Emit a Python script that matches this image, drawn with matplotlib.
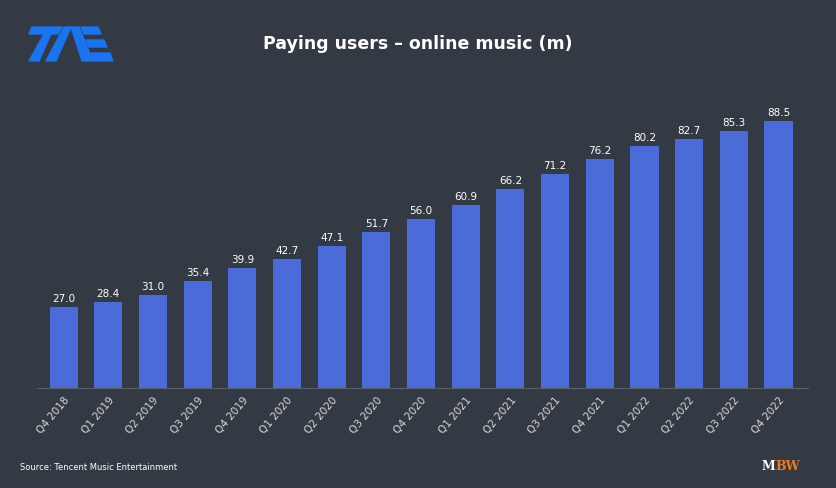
import matplotlib

matplotlib.use("Agg")
import matplotlib.pyplot as plt
from matplotlib.patches import Polygon

quarters = ["Q4 2018", "Q1 2019", "Q2 2019", "Q3 2019", "Q4 2019", "Q1 2020", "Q2 2020",
            "Q3 2020", "Q4 2020", "Q1 2021", "Q2 2021", "Q3 2021", "Q4 2021", "Q1 2022",
            "Q2 2022", "Q3 2022", "Q4 2022"]
paying_users = [27.0, 28.4, 31.0, 35.4, 39.9, 42.7, 47.1, 51.7, 56.0, 60.9, 66.2, 71.2,
                76.2, 80.2, 82.7, 85.3, 88.5]

BG = "#343a43"
BAR = "#4a6bd8"

fig = plt.figure(figsize=(8.36, 4.88), dpi=100, facecolor=BG)
ax = fig.add_axes([0.044, 0.205, 0.923, 0.617], facecolor=BG)

x = range(len(quarters))
ax.bar(x, paying_users, width=0.63, color=BAR, zorder=2)
for xi, v in zip(x, paying_users):
    ax.text(xi, v + 1.0, f"{v:.1f}", ha="center", va="bottom", color="white", fontsize=7.5)

ax.set_xlim(-0.6, 16.67)
ax.set_ylim(0, 100)
ax.set_yticks([])
ax.set_xticks(list(x))
ax.set_xticklabels(quarters, rotation=50, ha="right", rotation_mode="anchor",
                   color="#d8d8d8", fontsize=7.5)
ax.tick_params(axis="x", length=0, pad=5)
for s in ["top", "right", "left"]:
    ax.spines[s].set_visible(False)
ax.spines["bottom"].set_color("#5a606a")

fig.text(0.5, 1 - 44 / 488, "Paying users \u2013 online music (m)", ha="center", va="center",
         color="white", fontsize=12.5, fontweight="bold")

# TME logo, approximated with slanted shapes (pixel coords -> figure fraction)
W, H = 836, 488
logo_color = "#1a73f0"
shapes = [
    [(32, 27), (62, 27), (58, 34), (29, 34)],   # T bar
    [(44, 34), (51, 34), (39, 61), (29, 61)],   # T stem
    [(64, 27), (71, 27), (56, 61), (46, 61)],   # M left leg
    [(71, 27), (79, 27), (93, 61), (82, 61)],   # M right leg
    [(81, 27), (98, 27), (101, 34), (84, 34)],  # E top
    [(86, 40), (104, 40), (107, 47), (89, 47)], # E middle
    [(91, 53), (110, 53), (113, 61), (94, 61)], # E bottom
]
for pts in shapes:
    fig.patches.append(Polygon([(px / W, 1 - py / H) for px, py in pts], closed=True,
                               transform=fig.transFigure, color=logo_color))

fig.text(20 / W, 1 - 467 / H, "Source: Tencent Music Entertainment", color="white",
         fontsize=6, va="center", ha="left")
fig.text(775 / W, 1 - 467 / H, "M", color="white", fontsize=9, fontweight="bold",
         va="center", ha="right", family="DejaVu Serif")
fig.text(775 / W, 1 - 467 / H, "BW", color="#f07a1a", fontsize=9, fontweight="bold",
         va="center", ha="left", family="DejaVu Serif")

fig.savefig("out.png", dpi=100, facecolor=BG)
